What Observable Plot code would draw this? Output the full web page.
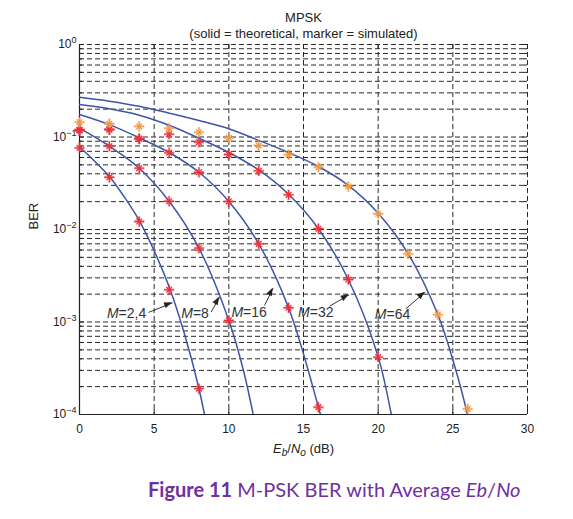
<!DOCTYPE html>
<html>
<head>
<meta charset="utf-8">
<script src="https://cdn.jsdelivr.net/npm/d3@7"></script>
<script src="https://cdn.jsdelivr.net/npm/@observablehq/plot@0.6"></script>
<style>
  body { margin: 0; background: #fff; }
  #wrap { position: relative; width: 573px; height: 519px; }
  #caption {
    position: absolute; left: 148px; top: 477px;
    font-family: Lato, "Open Sans", sans-serif; font-size: 20px;
    color: #7030a0; white-space: nowrap;
  }
</style>
</head>
<body>
<div id="wrap">
  <div id="chart"></div>
  <div id="caption"><b>Figure 11</b> M-PSK BER with Average <i>Eb</i>/<i>No</i></div>
</div>
<script>
// Theoretical BER curves: [Eb/No (dB), BER]
const theoryM2  = [[0,0.0786],[1,0.055],[2,0.0375],[3,0.0225],[4,0.0125],[5,0.0059],[6,0.0024],[7,7.7e-4],[8,1.9e-4],[9,3e-5]];
const theoryM8  = [[0,0.1245],[2,0.0795],[4,0.046],[6,0.0202],[8,0.00628],[10,0.00104],[11,2.9e-4],[12,5e-5]];
const theoryM16 = [[0,0.175],[2,0.136],[4,0.098],[6,0.068],[8,0.0416],[10,0.0201],[12,0.0070],[14,0.001425],[16,1.2e-4],[17,2.8e-5]];
const theoryM32 = [[0,0.2245],[2,0.202],[4,0.172],[6,0.134],[8,0.097],[10,0.068],[12,0.044],[14,0.024],[16,0.0102],[18,0.00288],[20,4.2e-4],[21,8e-5],[21.5,3e-5]];
const theoryM64 = [[0,0.269],[2,0.244],[4,0.215],[6,0.181],[8,0.151],[10,0.123],[12,0.092],[14,0.068],[16,0.048],[18,0.030],[20,0.015],[22,0.0055],[24,0.0012],[25,3.9e-4],[26,9.5e-5],[26.5,3e-5]];

// Simulated BER, sampled every 2 dB from 0 dB
const simM2  = [0.0764, 0.0367, 0.0122, 0.00223, 1.9e-4];
const simM8  = [0.1175, 0.0795, 0.046, 0.0202, 0.00628, 0.00104];
const simM16 = [0.119, 0.1205, 0.0957, 0.0675, 0.0416, 0.0201, 0.0070, 0.001425, 1.2e-4];
const simM32 = [0.119, 0.1205, 0.0957, 0.1072, 0.0879, 0.0647, 0.0431, 0.0237, 0.0102, 0.00288, 4.17e-4];
const simM64 = [0.1445, 0.139, 0.130, 0.1245, 0.1127, 0.098, 0.081, 0.0642, 0.0472, 0.0292, 0.0148, 0.00546, 0.0012, 1.15e-4];

// Curve annotations (text position and arrow, in data units)
const labelText = ["M=2,4", "M=8", "M=16", "M=32", "M=64"];
const labelX    = [3.15, 7.74, 11.36, 15.82, 20.96];
const labelY    = [1.23e-3, 1.25e-3, 1.28e-3, 1.28e-3, 1.20e-3];
const arrowX1   = [4.62, 8.81, 12.39, 16.74, 21.85];
const arrowY1   = [1.27e-3, 1.28e-3, 1.51e-3, 1.48e-3, 1.39e-3];
const arrowX2   = [6.23, 9.38, 12.97, 18.06, 23.15];
const arrowY2   = [1.61e-3, 1.85e-3, 2.32e-3, 1.97e-3, 2.10e-3];

// Axis ticks
const xTicks = [0, 5, 10, 15, 20, 25, 30];
const yDecades = [1e-4, 1e-3, 1e-2, 1e-1, 1];
const yExponents = ["−4", "−3", "−2", "−1", "0"];
const minorSteps = [2, 3, 4, 5, 6, 7, 8, 9];
const yMinor = yDecades.slice(0, -1).flatMap(d => minorSteps.map(m => m * d));

const theoryTable = [
  ["2", theoryM2], ["8", theoryM8], ["16", theoryM16], ["32", theoryM32], ["64", theoryM64]
].flatMap(([M, pts]) => pts.map(([x, ber]) => ({M, x, ber})));

const simTable = [
  ["2", simM2, "#e8323c"], ["8", simM8, "#e8323c"], ["16", simM16, "#e8323c"],
  ["32", simM32, "#e8323c"], ["64", simM64, "#ef9a48"]
].flatMap(([M, vals, color]) => vals.map((ber, i) => ({M, x: 2 * i, ber, color})));

const labels = labelText.map((text, i) => ({text, x: labelX[i], y: labelY[i]}));
const arrows = labelText.map((t, i) => ({x1: arrowX1[i], y1: arrowY1[i], x2: arrowX2[i], y2: arrowY2[i]}));

const font = "'Liberation Sans', Arial, sans-serif";
const dash = {stroke: "#2a2a2a", strokeWidth: 1, strokeDasharray: "5,3"};

const chart = Plot.plot({
  width: 573,
  height: 470,
  marginLeft: 79,
  marginRight: 46,
  marginTop: 44,
  marginBottom: 56,
  style: {fontFamily: font, fontSize: "12px", color: "#222", background: "#fff"},
  x: {domain: [0, 30], ticks: xTicks, label: null},
  y: {type: "log", domain: [1e-4, 1], ticks: yDecades, label: null},
  marks: [
    // dashed grid (every log minor step and every 5 dB)
    Plot.ruleY(yMinor, dash),
    Plot.ruleY(yDecades.slice(1), dash),
    Plot.ruleX(xTicks.slice(1), dash),
    // inward tick marks on all four sides
    Plot.tickX(xTicks, {stroke: "#222", insetBottom: 365}),
    Plot.tickX(xTicks, {stroke: "#222", insetTop: 365}),
    Plot.tickY(yDecades, {stroke: "#222", insetRight: 443}),
    Plot.tickY(yDecades, {stroke: "#222", insetLeft: 443}),
    Plot.tickY(yMinor, {stroke: "#222", insetRight: 445}),
    Plot.tickY(yMinor, {stroke: "#222", insetLeft: 445}),
    // solid left and bottom axis lines
    Plot.ruleX([0], {stroke: "#222", strokeWidth: 1.2}),
    Plot.ruleY([1e-4], {stroke: "#222", strokeWidth: 1.2}),
    Plot.axisX({ticks: xTicks, tickSize: 0, tickPadding: 10, fontSize: 12, label: null}),
    Plot.axisY({ticks: yDecades, tickSize: 0, tickPadding: 3, fontSize: 12, label: null,
      tickFormat: (d) => "10^" + yExponents[yDecades.indexOf(d)]}),
    // theoretical curves
    Plot.line(theoryTable, {x: "x", y: "ber", z: "M", stroke: "#3d55a8", strokeWidth: 1.5,
      curve: "catmull-rom", clip: true}),
    // simulated points drawn as 8-armed stars with a soft halo
    Plot.dot(simTable, {x: "x", y: "ber", stroke: "color", symbol: "plus", r: 3.6, strokeWidth: 3, strokeOpacity: 0.25}),
    Plot.dot(simTable, {x: "x", y: "ber", stroke: "color", symbol: "plus", r: 3.3, strokeWidth: 1.3}),
    Plot.dot(simTable, {x: "x", y: "ber", stroke: "color", symbol: "times", r: 2.7, strokeWidth: 1.3}),
    // annotations
    Plot.link(arrows, {x1: "x1", y1: "y1", x2: "x2", y2: "y2", stroke: "#333", strokeWidth: 1}),
    Plot.text(labels, {x: "x", y: "y", text: "text", fontSize: 14, fill: "#333"}),
    // titles and axis labels
    Plot.text(["MPSK"], {frameAnchor: "top", dy: -32, fontSize: 13, fill: "#222"}),
    Plot.text(["(solid = theoretical, marker = simulated)"], {frameAnchor: "top", dy: -16, fontSize: 13, fill: "#222"}),
    Plot.text(["BER"], {frameAnchor: "left", dx: -46, rotate: -90, fontSize: 13, fill: "#222"}),
    Plot.text(["Eb/No (dB)"], {frameAnchor: "bottom", dy: 38, fontSize: 13, fill: "#222"})
  ]
});

document.getElementById("chart").append(chart);

// Rich text: superscript exponents, italic M, subscripted axis label
const NS = "http://www.w3.org/2000/svg";
function tspan(parent, text, attrs = {}) {
  const t = document.createElementNS(NS, "tspan");
  for (const [k, v] of Object.entries(attrs)) t.setAttribute(k, v);
  t.textContent = text;
  parent.appendChild(t);
  return t;
}
chart.querySelectorAll("text").forEach((t) => {
  const s = t.textContent;
  if (/^10\^/.test(s)) {
    t.textContent = "";
    tspan(t, "10");
    tspan(t, s.slice(3), {dy: "-0.55em", "font-size": "9px"});
  } else if (/^M=/.test(s)) {
    t.textContent = "";
    tspan(t, "M", {"font-style": "italic"});
    tspan(t, s.slice(1));
  } else if (s === "Eb/No (dB)") {
    t.textContent = "";
    tspan(t, "E", {"font-style": "italic"});
    tspan(t, "b", {"font-style": "italic", "font-size": "10px", dy: "3"});
    tspan(t, "/", {dy: "-3"});
    tspan(t, "N", {"font-style": "italic"});
    tspan(t, "o", {"font-style": "italic", "font-size": "10px", dy: "3"});
    tspan(t, " (dB)", {dy: "-3"});
  }
});

// Filled arrowheads placed through the chart's scales
const sx = chart.scale("x"), sy = chart.scale("y");
const headG = document.createElementNS(NS, "g");
arrows.forEach((a) => {
  const x1 = sx.apply(a.x1), y1 = sy.apply(a.y1), x2 = sx.apply(a.x2), y2 = sy.apply(a.y2);
  const ang = Math.atan2(y2 - y1, x2 - x1), L = 8, w = 3;
  const bx = x2 - L * Math.cos(ang), by = y2 - L * Math.sin(ang);
  const px = -Math.sin(ang) * w, py = Math.cos(ang) * w;
  const p = document.createElementNS(NS, "polygon");
  p.setAttribute("points", `${x2},${y2} ${bx + px},${by + py} ${bx - px},${by - py}`);
  p.setAttribute("fill", "#222");
  headG.appendChild(p);
});
chart.appendChild(headG);
</script>
</body>
</html>
